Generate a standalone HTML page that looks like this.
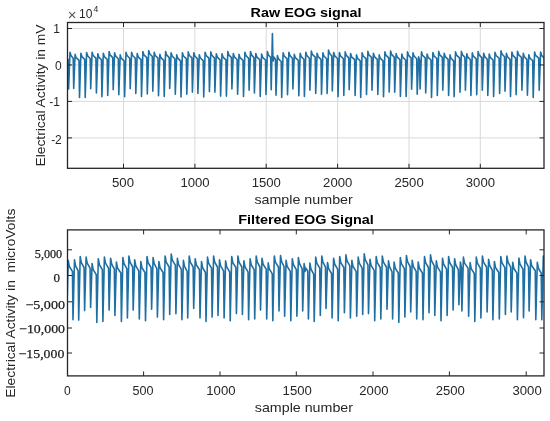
<!DOCTYPE html><html><head><meta charset="utf-8"><style>html,body{margin:0;padding:0;background:#fff;}svg{display:block}</style></head><body>
<svg width="550" height="421" viewBox="0 0 550 421">
<rect width="550" height="421" fill="#ffffff"/>
<path d="M123.5 22.5V168.3 M194.9 22.5V168.3 M266.2 22.5V168.3 M337.6 22.5V168.3 M409 22.5V168.3 M480.3 22.5V168.3 M67.5 28.5H544 M67.5 64.95H544 M67.5 101.4H544 M67.5 137.9H544" stroke="#d9d9d9" stroke-width="1" fill="none"/>
<clipPath id="c1"><rect x="67.5" y="22.5" width="476.5" height="145.8"/></clipPath>
<path id="s1" clip-path="url(#c1)" d="M63 93 L64.4 53.5 L65.4 56.8 L68.1 59.5 L68.6 89 L70 52.2 L71 55.5 L73.2 58.2 L73.7 88.4 L75.1 54.4 L76.1 57.7 L79 60.4 L79.5 97.4 L80.9 53.3 L81.9 56.6 L84.7 59.3 L85.2 97.4 L86.6 52.5 L87.6 55.8 L90.2 58.5 L90.7 88.8 L92.1 52.2 L93.1 55.5 L95.9 58.2 L96.4 92.9 L97.8 53.8 L98.8 57.1 L101.4 59.8 L101.9 96.7 L103.3 53.3 L104.3 56.6 L107.2 59.3 L107.7 95.4 L109.1 51.6 L110.1 54.9 L112.7 57.6 L113.2 89.7 L114.6 52.7 L115.6 56 L118.3 58.7 L118.8 94.8 L120.2 54.9 L121.2 58.2 L124.1 60.9 L124.6 96.7 L126 52.2 L127 55.5 L129.7 58.2 L130.2 88.8 L131.6 52.2 L132.6 55.5 L135.3 58.2 L135.8 93.5 L137.2 53.6 L138.2 56.9 L141 59.6 L141.5 96.5 L142.9 51.6 L143.9 54.9 L146.8 57.6 L147.3 93.9 L148.7 50.5 L149.7 53.8 L152.3 56.5 L152.8 91.3 L154.2 52.2 L155.2 55.5 L158 58.2 L158.5 95.7 L159.9 54.4 L160.9 57.7 L163.7 60.4 L164.2 96.5 L165.6 51.6 L166.6 54.9 L169.2 57.6 L169.7 88.4 L171.1 52.7 L172.1 56 L174.8 58.7 L175.3 94.2 L176.7 54.9 L177.7 58.2 L180.5 60.9 L181 97 L182.4 52.7 L183.4 56 L186.3 58.7 L186.8 94.2 L188.2 51.9 L189.2 55.2 L191.9 57.9 L192.4 92.2 L193.8 52.7 L194.8 56 L197.4 58.7 L197.9 93.5 L199.3 54.7 L200.3 58 L203.2 60.7 L203.7 97 L205.1 52.2 L206.1 55.5 L208.9 58.2 L209.4 91.6 L210.8 51.9 L211.8 55.2 L214.4 57.9 L214.9 92.2 L216.3 53.8 L217.3 57.1 L220.1 59.8 L220.6 96.1 L222 53.8 L223 57.1 L225.9 59.8 L226.4 96.1 L227.8 51.6 L228.8 54.9 L231.4 57.6 L231.9 89 L233.3 53.5 L234.3 56.8 L237.1 59.5 L237.6 94.2 L239 54.4 L240 57.7 L243 60.4 L243.5 96.5 L244.9 52.2 L245.9 55.5 L248.6 58.2 L249.1 90.3 L250.5 51.6 L251.5 54.9 L253.9 57.6 L254.4 92.9 L255.8 53.6 L256.8 56.9 L259.7 59.6 L260.2 96.5 L261.6 54 L262.6 57.3 L265.5 60 L266 94.4 L267.4 51.6 L268.4 54.9 L270.7 57.6 L271.2 89.7 L272.4 33.5 L272.9 58 L273.3 61 L273.8 57 L275.5 59.5 L276 95.2 L277.4 55.5 L278.4 58.8 L281.2 61.5 L281.7 97.4 L283.1 52.7 L284.1 56 L287 58.7 L287.5 94.8 L288.9 52.2 L289.9 55.5 L292.4 58.2 L292.9 89 L294.3 54.4 L295.3 57.7 L298.3 60.4 L298.8 95.7 L300.2 53.3 L301.2 56.6 L303.9 59.3 L304.4 96.5 L305.8 52.2 L306.8 55.5 L309.4 58.2 L309.9 90.3 L311.3 51.1 L312.3 54.4 L315.2 57.1 L315.7 93.5 L317.1 53.3 L318.1 56.6 L321 59.3 L321.5 94.2 L322.9 52.7 L323.9 56 L326.6 58.7 L327.1 93.5 L328.5 50 L329.5 53.3 L331.8 56 L332.3 91 L333.7 52.5 L334.7 55.8 L337.5 58.5 L338 96.7 L339.4 52.5 L340.4 55.8 L343.3 58.5 L343.8 95.4 L345.2 51.9 L346.2 55.2 L348.7 57.9 L349.2 89.7 L350.6 53.6 L351.6 56.9 L354.6 59.6 L355.1 95.4 L356.5 54.9 L357.5 58.2 L360.2 60.9 L360.7 97.4 L362.1 52.7 L363.1 56 L366 58.7 L366.5 94.4 L367.9 51.4 L368.9 54.7 L371.5 57.4 L372 90.3 L373.4 53.3 L374.4 56.6 L377.3 59.3 L377.8 94.4 L379.2 54.9 L380.2 58.2 L383 60.9 L383.5 96.7 L384.9 51.9 L385.9 55.2 L388.7 57.9 L389.2 92 L390.6 51.1 L391.6 54.4 L394.2 57.1 L394.7 92.2 L396.1 53.6 L397.1 56.9 L399.9 59.6 L400.4 96.5 L401.8 54 L402.8 57.3 L405.6 60 L406.1 96.5 L407.5 51.9 L408.5 55.2 L411.1 57.9 L411.6 89.3 L413 52.7 L414 56 L416.7 58.7 L417.2 94.2 L418.6 56.9 L419.6 60.2 L419.6 62.9 L420.1 89 L421.5 51.9 L422.5 55.2 L425.2 57.9 L425.7 92.9 L427.1 54 L428.1 57.3 L431 60 L431.5 97.4 L432.9 52.5 L433.9 55.8 L436.8 58.5 L437.3 95.4 L438.7 51.4 L439.7 54.7 L442.3 57.4 L442.8 90.3 L444.2 53.3 L445.2 56.6 L448.1 59.3 L448.6 95.4 L450 54.9 L451 58.2 L453.6 60.9 L454.1 96.7 L455.5 51.9 L456.5 55.2 L459.5 57.9 L460 92.2 L461.4 51.4 L462.4 54.7 L464.9 57.4 L465.4 90.3 L466.8 53.8 L467.8 57.1 L470.4 59.8 L470.9 95.4 L472.3 52.9 L473.3 56.2 L476.2 58.9 L476.7 94.8 L478.1 51.6 L479.1 54.9 L481.8 57.6 L482.3 90.3 L483.7 53.3 L484.7 56.6 L487.3 59.3 L487.8 95.4 L489.2 54 L490.2 57.3 L493.1 60 L493.6 96.5 L495 52.2 L496 55.5 L499.1 58.2 L499.6 93.5 L501 50.7 L502 54 L504.5 56.7 L505 91.3 L506.4 53.4 L507.4 56.7 L510 59.4 L510.5 96.5 L511.9 52.1 L512.9 55.4 L515.6 58.1 L516.1 94.6 L517.5 51.3 L518.5 54.6 L521.4 57.3 L521.9 90.3 L523.3 53.4 L524.3 56.7 L526.9 59.4 L527.4 95.2 L528.8 54.7 L529.8 58 L532.7 60.7 L533.2 97.4 L534.6 52.1 L535.6 55.4 L538.7 58.1 L539.2 90.3 L540.6 52.1 L541.6 55.4 L544.3 58.1 L544.8 93" stroke="#1f6fa3" stroke-width="1.6" fill="none" stroke-linejoin="round"/>
<path d="M123.5 168.3V163.8 M123.5 22.5V27 M194.9 168.3V163.8 M194.9 22.5V27 M266.2 168.3V163.8 M266.2 22.5V27 M337.6 168.3V163.8 M337.6 22.5V27 M409 168.3V163.8 M409 22.5V27 M480.3 168.3V163.8 M480.3 22.5V27 M67.5 28.5H72 M544 28.5H539.5 M67.5 64.95H72 M544 64.95H539.5 M67.5 101.4H72 M544 101.4H539.5 M67.5 137.9H72 M544 137.9H539.5" stroke="#262626" stroke-width="1" fill="none"/>
<rect x="67.5" y="22.5" width="476.5" height="145.8" stroke="#262626" stroke-width="1.3" fill="none"/>
<g font-family="Liberation Sans, Arial, sans-serif" font-size="12" fill="#262626">
<text x="112" y="186.8" textLength="22" lengthAdjust="spacingAndGlyphs">500</text>
<text x="180.4" y="186.8" textLength="29.2" lengthAdjust="spacingAndGlyphs">1000</text>
<text x="251.7" y="186.8" textLength="29.2" lengthAdjust="spacingAndGlyphs">1500</text>
<text x="323.1" y="186.8" textLength="29.2" lengthAdjust="spacingAndGlyphs">2000</text>
<text x="394.5" y="186.8" textLength="29.2" lengthAdjust="spacingAndGlyphs">2500</text>
<text x="465.8" y="186.8" textLength="29.2" lengthAdjust="spacingAndGlyphs">3000</text>
<text x="60" y="33" text-anchor="end">1</text>
<text x="61.8" y="69.65" text-anchor="end">0</text>
<text x="60" y="106" text-anchor="end">-1</text>
<text x="61.8" y="143.7" text-anchor="end">-2</text>
<text x="67.8" y="19.8" font-size="15" fill="#555">&#215;</text>
<text x="79" y="18.3">10</text>
<text x="93.4" y="11.5" font-size="8.6">4</text>
<text x="254.4" y="204.4" font-size="13" textLength="98.4" lengthAdjust="spacingAndGlyphs">sample number</text>
<text transform="translate(44.6 166.6) rotate(-90)" font-size="13.5" textLength="142.2" lengthAdjust="spacingAndGlyphs">Electrical Activity in mV</text>
</g>
<text x="250.6" y="16.6" font-family="Liberation Sans, Arial, sans-serif" font-size="12.5" font-weight="bold" fill="#000" textLength="111" lengthAdjust="spacingAndGlyphs">Raw EOG signal</text>
<clipPath id="c2"><rect x="67.5" y="229.9" width="476.5" height="145.99999999999997"/></clipPath>
<path id="s2" clip-path="url(#c2)" d="M66.7 318 L68.2 260.4 L69.3 266.45 L72.45 271.4 L73 319.8 L74.5 259.8 L75.6 265.85 L78.15 270.8 L78.7 320.1 L80.2 256.5 L81.3 262.55 L84.05 267.5 L84.6 310.6 L86.1 257.1 L87.2 263.15 L90.05 268.1 L90.6 307.5 L92.1 263.6 L93.2 269.65 L96.25 274.6 L96.8 322.4 L98.3 258.7 L99.4 264.75 L102.35 269.7 L102.9 321.5 L104.4 257.1 L105.5 263.15 L108.55 268.1 L109.1 310.1 L110.6 258.2 L111.7 264.25 L114.35 269.2 L114.9 315.4 L116.4 262 L117.5 268.05 L120.85 273 L121.4 321.5 L122.9 257.6 L124 263.65 L126.85 268.6 L127.4 318 L128.9 256 L130 262.05 L132.65 267 L133.2 310.1 L134.7 259.8 L135.8 265.85 L138.75 270.8 L139.3 318.9 L140.8 261.5 L141.9 267.55 L144.95 272.5 L145.5 320.7 L147 256.5 L148.1 262.55 L151.05 267.5 L151.6 309.2 L153.1 257.6 L154.2 263.65 L156.85 268.6 L157.4 317.1 L158.9 261.5 L160 267.55 L163.05 272.5 L163.6 319.8 L165.1 256 L166.2 262.05 L169.15 267 L169.7 314.5 L171.2 254.1 L172.3 260.15 L175.35 265.1 L175.9 313.8 L177.4 258.4 L178.5 264.45 L181.35 269.4 L181.9 319.8 L183.4 260.4 L184.5 266.45 L187.15 271.4 L187.7 318 L189.2 256 L190.3 262.05 L193.15 267 L193.7 308.4 L195.2 258.7 L196.3 264.75 L199.45 269.7 L200 318 L201.5 261.5 L202.6 267.55 L205.45 272.5 L206 321.5 L207.5 257.1 L208.6 263.15 L211.55 268.1 L212.1 317.1 L213.6 256 L214.7 262.05 L217.45 267 L218 315.4 L219.5 259.8 L220.6 265.85 L223.55 270.8 L224.1 318 L225.6 260.9 L226.7 266.95 L229.65 271.9 L230.2 320.7 L231.7 256.5 L232.8 262.55 L235.85 267.5 L236.4 313.6 L237.9 256 L239 262.05 L241.85 267 L242.4 314.5 L243.9 260.9 L245 266.95 L248.05 271.9 L248.6 319.8 L250.1 258.7 L251.2 264.75 L254.15 269.7 L254.7 318.9 L256.2 256 L257.3 262.05 L259.95 267 L260.5 310.1 L262 258.2 L263.1 264.25 L266.15 269.2 L266.7 318.9 L268.2 262.9 L269.3 268.95 L272.25 273.9 L272.8 320.7 L274.3 256 L275.4 262.05 L278.45 267 L279 311 L280.5 255.5 L281.6 261.55 L284.05 266.5 L284.6 316.3 L286.1 260.4 L287.2 266.45 L290.25 271.4 L290.8 320.7 L292.3 258.7 L293.4 264.75 L296.35 269.7 L296.9 316.3 L298.4 257.6 L299.5 263.65 L302.15 268.6 L302.7 311 L304.1 263.6 L304.7 267 L305.1 271.5 L305.6 268 L307.8 271 L308.4 318.9 L309.9 263.1 L311 269.15 L313.65 274.1 L314.2 321.5 L315.7 257.1 L316.8 263.15 L319.75 268.1 L320.3 315.4 L321.8 256 L322.9 262.05 L325.45 267 L326 308.4 L327.5 262.5 L328.6 268.55 L331.55 273.5 L332.1 318 L333.6 258.2 L334.7 264.25 L337.65 269.2 L338.2 320.7 L339.7 256.5 L340.8 262.55 L343.85 267.5 L344.4 312.8 L345.9 254.9 L347 260.95 L349.85 265.9 L350.4 318 L351.9 260.4 L353 266.45 L356.15 271.4 L356.7 316.3 L358.2 257.1 L359.3 263.15 L362.15 268.1 L362.7 314.5 L364.2 253.8 L365.3 259.85 L367.95 264.8 L368.5 313.6 L370 259.3 L371.1 265.35 L374.15 270.3 L374.7 320.7 L376.2 256.5 L377.3 262.55 L380.25 267.5 L380.8 318.9 L382.3 256 L383.4 262.05 L386.45 267 L387 309.2 L388.5 260.9 L389.6 266.95 L392.05 271.9 L392.6 319 L394.1 262 L395.2 268.05 L398.25 273 L398.8 322.4 L400.3 257.6 L401.4 263.65 L404.35 268.6 L404.9 317.1 L406.4 255.5 L407.5 261.55 L410.15 266.5 L410.7 311.9 L412.2 260.4 L413.3 266.45 L416.15 271.4 L416.7 318.9 L418.2 262 L419.3 268.05 L422.45 273 L423 319.8 L424.5 256.5 L425.6 262.55 L428.45 267.5 L429 312.8 L430.5 254.9 L431.6 260.95 L434.25 265.9 L434.8 315.4 L436.3 260.9 L437.4 266.95 L440.45 271.9 L441 320.7 L442.5 258.2 L443.6 264.25 L446.55 269.2 L447.1 315.5 L448.6 256.5 L449.7 262.55 L452.55 267.5 L453.1 310.1 L454.6 258.7 L455.7 264.75 L458.35 269.7 L458.9 304.8 L460.4 262 L461.5 268.05 L461.35 273 L461.9 311 L463.4 257.1 L464.5 263.15 L468.05 268.1 L468.6 316.3 L470.1 262.5 L471.2 268.55 L474.25 273.5 L474.8 321.5 L476.3 257.1 L477.4 263.15 L480.35 268.1 L480.9 318 L482.4 256 L483.5 262.05 L486.55 267 L487.1 311.9 L488.6 259.3 L489.7 265.35 L492.35 270.3 L492.9 319.8 L494.4 261.5 L495.5 267.55 L498.75 272.5 L499.3 318.9 L500.8 256.6 L501.9 262.65 L504.85 267.6 L505.4 314.5 L506.9 256.1 L508 262.15 L510.65 267.1 L511.2 311.9 L512.7 262.2 L513.8 268.25 L516.85 273.2 L517.4 319.8 L518.9 258.1 L520 264.15 L522.95 269.1 L523.5 317.7 L525 256.1 L526.1 262.15 L528.55 267.1 L529.1 311 L530.6 259.7 L531.7 265.75 L535.25 270.7 L535.8 319.8 L537.3 262.2 L538.4 268.25 L541.25 273.2 L541.8 319.8 L543.3 256 L544.4 262.05 L547.25 267 L547.8 315" stroke="#1f6fa3" stroke-width="1.6" fill="none" stroke-linejoin="round"/>
<path d="M67.5 375.9V371.4 M67.5 229.9V234.4 M143.6 375.9V371.4 M143.6 229.9V234.4 M220 375.9V371.4 M220 229.9V234.4 M296.3 375.9V371.4 M296.3 229.9V234.4 M373 375.9V371.4 M373 229.9V234.4 M449.4 375.9V371.4 M449.4 229.9V234.4 M526.2 375.9V371.4 M526.2 229.9V234.4 M67.5 249.8H72 M544 249.8H539.5 M67.5 275.5H72 M544 275.5H539.5 M67.5 301.8H72 M544 301.8H539.5 M67.5 328H72 M544 328H539.5 M67.5 353H72 M544 353H539.5" stroke="#262626" stroke-width="1" fill="none"/>
<rect x="67.5" y="229.9" width="476.5" height="145.99999999999997" stroke="#262626" stroke-width="1.3" fill="none"/>
<g font-family="Liberation Sans, Arial, sans-serif" font-size="12" fill="#262626">
<text x="67.3" y="394.6" text-anchor="middle">0</text>
<text x="132.6" y="394.6" textLength="21" lengthAdjust="spacingAndGlyphs">500</text>
<text x="206.3" y="394.6" textLength="29.2" lengthAdjust="spacingAndGlyphs">1000</text>
<text x="282.6" y="394.6" textLength="29.2" lengthAdjust="spacingAndGlyphs">1500</text>
<text x="359.3" y="394.6" textLength="29.2" lengthAdjust="spacingAndGlyphs">2000</text>
<text x="435.7" y="394.6" textLength="29.2" lengthAdjust="spacingAndGlyphs">2500</text>
<text x="512.5" y="394.6" textLength="29.2" lengthAdjust="spacingAndGlyphs">3000</text>
<text x="254.8" y="411.9" font-size="13" textLength="98.2" lengthAdjust="spacingAndGlyphs">sample number</text>
<text transform="translate(15.3 397.7) rotate(-90)" font-size="13.5" textLength="189" lengthAdjust="spacingAndGlyphs" xml:space="preserve">Electrical Activity in  microVolts</text>
</g>
<g font-family="Liberation Serif, Times New Roman, serif" font-size="13" fill="#1a1a1a" stroke="#1a1a1a" stroke-width="0.25">
<text x="34.8" y="258.4" textLength="27.4" lengthAdjust="spacingAndGlyphs">5,000</text>
<text x="60" y="282.2" text-anchor="end">0</text>
<text x="25.4" y="308.6" textLength="39.6" lengthAdjust="spacingAndGlyphs">−5,000</text>
<text x="19.1" y="332.8" textLength="45.9" lengthAdjust="spacingAndGlyphs">−10,000</text>
<text x="18.6" y="357.5" textLength="45.7" lengthAdjust="spacingAndGlyphs">−15,000</text>
</g>
<text x="238.3" y="224.2" font-family="Liberation Sans, Arial, sans-serif" font-size="12.5" font-weight="bold" fill="#000" textLength="135.5" lengthAdjust="spacingAndGlyphs">Filtered EOG Signal</text>
</svg></body></html>
